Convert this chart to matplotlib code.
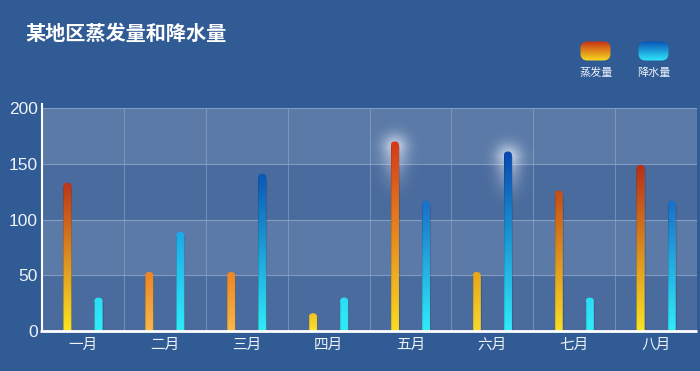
import numpy as np
import matplotlib
matplotlib.use("Agg")
import matplotlib.pyplot as plt
from matplotlib.colors import LinearSegmentedColormap
from matplotlib.patches import FancyBboxPatch

plt.rcParams['font.family'] = ['Noto Sans CJK SC', 'DejaVu Sans']

# ---- data ----
title = "某地区蒸发量和降水量"
months = ["一月", "二月", "三月", "四月", "五月", "六月", "七月", "八月"]
series_names = ["蒸发量", "降水量"]
evaporation = [133, 53, 53, 16, 170, 53, 126, 149]
precipitation = [30, 89, 141, 30, 117, 161, 30, 117]
y_ticks = [0, 50, 100, 150, 200]

# ---- styles ----
evap_top = ["#bf3418", "#ee8424", "#ee8424", "#f0c020", "#d63818", "#e6a41e", "#c44c18", "#b82e18"]
evap_bot = ["#fbe622", "#f7b84a", "#f7b84a", "#fbe22e", "#fbdc22", "#f9d82e", "#fbde22", "#fbe422"]
rain_top = ["#2cdcf4", "#1ea8e6", "#0a56b6", "#2cdcf4", "#1a6ec6", "#0a48ae", "#2cdcf4", "#1a6ec6"]
rain_bot = ["#30ecfa", "#30ecfa", "#30ecfa", "#30ecfa", "#30ecfa", "#30ecfa", "#30ecfa", "#30ecfa"]

FIG_BG = "#305b94"
BAND_LIGHT = "#5b7aa7"
BAND_DARK = "#4a6b9d"
GRID = "#8fa6c8"
TXT = "#eef3fa"

fig = plt.figure(figsize=(7.0, 3.71), dpi=100, facecolor=FIG_BG)
ax = fig.add_axes([42/700, 40/371, 655/700, 223/371])
ax.set_facecolor(BAND_DARK)
ax.set_xlim(-0.5, len(months) - 0.5)
ax.set_ylim(0, 200)

# background bands
for i in range(len(y_ticks) - 1):
    ax.axhspan(y_ticks[i], y_ticks[i+1], color=BAND_LIGHT if i % 2 else BAND_DARK, zorder=0, lw=0)
for yv in y_ticks[1:]:
    ax.axhline(yv, color=GRID, lw=0.8, zorder=1, alpha=0.8)
for xv in np.arange(0.5, len(months) - 0.5, 1.0):
    ax.axvline(xv, color=GRID, lw=0.8, zorder=1, alpha=0.6)

for s in ax.spines.values():
    s.set_visible(False)

x = np.arange(len(months))
bw = 0.1
off = 0.19
bars_e = ax.bar(x - off, evaporation, width=bw, alpha=0)
bars_r = ax.bar(x + off, precipitation, width=bw, alpha=0)

# pixel aspect for rounded caps
p0 = ax.transData.transform((0, 0))
p1 = ax.transData.transform((1, 1))
px_x = p1[0] - p0[0]
px_y = p1[1] - p0[1]
aspect = px_x / px_y
r = bw / 2

def grad_bar(rect, c_top, c_bot, z=4):
    bx = rect.get_x()
    w = rect.get_width()
    h = rect.get_height()
    patch = FancyBboxPatch((bx, -r * aspect), w, h + r * aspect,
                           boxstyle=f"round,pad=0,rounding_size={r}",
                           mutation_aspect=aspect, lw=0, fc="none", ec="none")
    ax.add_patch(patch)
    cmap = LinearSegmentedColormap.from_list("g", [c_bot, c_top])
    grad = np.linspace(0, 1, 256).reshape(-1, 1)
    im = ax.imshow(grad, cmap=cmap, origin="lower", aspect="auto",
                   extent=(bx, bx + w, 0, h), zorder=z, interpolation="bilinear")
    im.set_clip_path(patch)
    ax.plot([bx, bx], [0, h - r * aspect], color="#000000", alpha=0.12, lw=0.8, zorder=z + 0.1)
    ax.plot([bx + w, bx + w], [0, h - r * aspect], color="#000000", alpha=0.12, lw=0.8, zorder=z + 0.1)

def glow(rect):
    xc = rect.get_x() + rect.get_width() / 2
    top = rect.get_height()
    half_w = 34.0  # px
    up, down = 32.0, 70.0  # px
    nx, ny = 137, 205
    gx = np.linspace(-half_w, half_w, nx)
    gy = np.linspace(-down, up, ny)
    X, Y = np.meshgrid(gx, gy)
    core_top = -6.0
    dy = np.where(Y > core_top, Y - core_top, 0.0)
    d = np.sqrt(X**2 + dy**2)
    a = np.exp(-(d / 13.0) ** 2) * 0.7
    fade = np.clip(1 + (Y - core_top) / (down - 15), 0, 1) ** 1.6
    a = a * np.where(Y > core_top, 1.0, fade)
    img = np.zeros((ny, nx, 4))
    img[..., 0:3] = [0.93, 0.96, 1.0]
    img[..., 3] = a
    ax.imshow(img, origin="lower", aspect="auto", interpolation="bilinear", zorder=3,
              extent=(xc - half_w / px_x, xc + half_w / px_x,
                      top - down / px_y, top + up / px_y))

ie = int(np.argmax(evaporation))
ir = int(np.argmax(precipitation))
glow(bars_e[ie])
glow(bars_r[ir])

for i, b in enumerate(bars_e):
    grad_bar(b, evap_top[i], evap_bot[i])
for i, b in enumerate(bars_r):
    grad_bar(b, rain_top[i], rain_bot[i])

ax.set_xlim(-0.5, len(months) - 0.5)
ax.set_ylim(0, 200)

# axes lines
ax.plot([-0.53, len(months) - 0.5], [0, 0], color="white", lw=2, clip_on=False, zorder=6,
        solid_capstyle="butt")
ax.plot([0, 0], [0, 204], color="white", lw=1.5, transform=ax.get_yaxis_transform(),
        clip_on=False, zorder=6)

ax.set_xticks(x)
ax.set_xticklabels(months, fontsize=10.5, color=TXT)
ax.set_yticks(y_ticks)
ax.set_yticklabels([str(v) for v in y_ticks], fontsize=12.5, color=TXT,
                   family=['Liberation Sans', 'DejaVu Sans'])
ax.tick_params(axis="both", length=0)
ax.tick_params(axis="x", pad=5)
ax.tick_params(axis="y", pad=3)

# title
fig.text(25/700, 1 - 33/371, title, fontsize=14.5, fontweight="bold", color="white",
         va="center", ha="left")

# legend
def legend_icon(x0, c_top, c_bot, label):
    lax = fig.add_axes([x0/700, 1 - 61/371, 31/700, 20/371])
    lax.set_xlim(0, 31); lax.set_ylim(0, 20)
    lax.axis("off")
    patch = FancyBboxPatch((0.5, 0.5), 30, 19, boxstyle="round,pad=0,rounding_size=7",
                           lw=0, fc="none")
    lax.add_patch(patch)
    cmap = LinearSegmentedColormap.from_list("l", [c_bot, c_top])
    grad = np.linspace(0, 1, 64).reshape(-1, 1)
    im = lax.imshow(grad, cmap=cmap, origin="lower", aspect="auto", extent=(0, 31, 0, 20))
    im.set_clip_path(patch)
    fig.text((x0 + 16)/700, 1 - 73/371, label, fontsize=8, color=TXT, ha="center", va="center")

legend_icon(580, "#c83214", "#f8dc20", series_names[0])
legend_icon(638, "#0a52b8", "#30e8fa", series_names[1])

fig.savefig("out.png", dpi=100, facecolor=FIG_BG)
